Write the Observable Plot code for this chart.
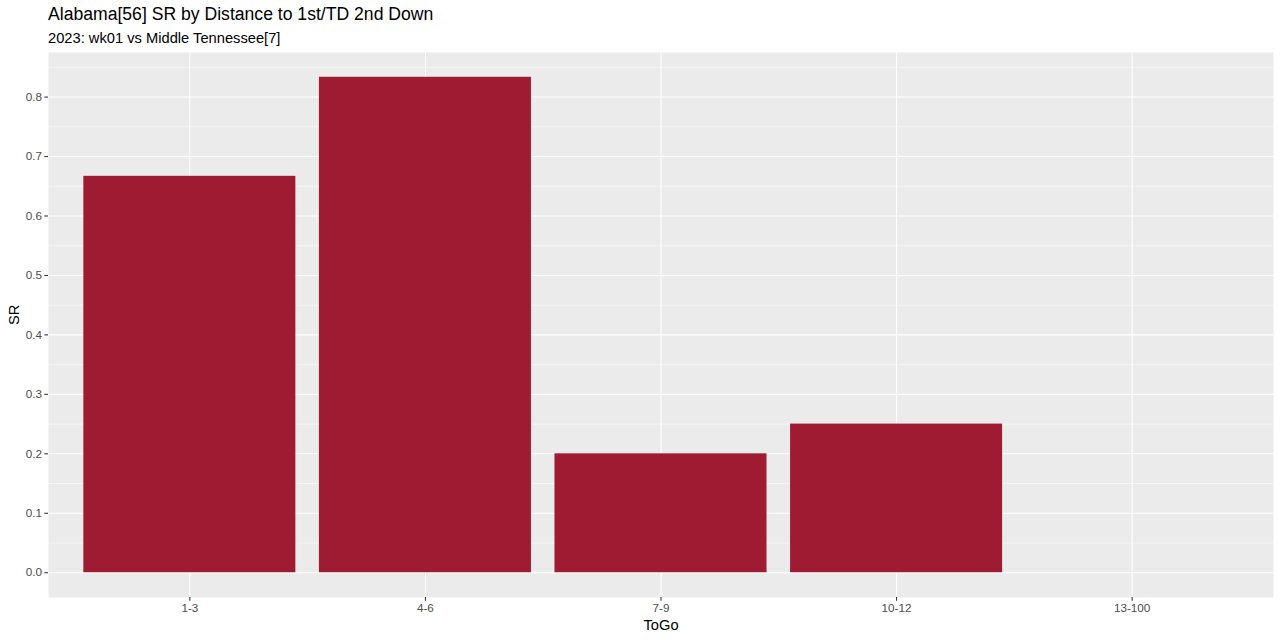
<!DOCTYPE html>
<html>
<head>
<meta charset="utf-8">
<script src="https://cdn.jsdelivr.net/npm/d3@7"></script>
<script src="https://cdn.jsdelivr.net/npm/@observablehq/plot@0.6"></script>
<style>
  html, body { margin: 0; padding: 0; background: #ffffff; }
  body { width: 1280px; height: 640px; overflow: hidden; font-family: "Liberation Sans", Arial, sans-serif; }
  #header { position: relative; height: 48px; width: 1280px; }
  #title { position: absolute; left: 48px; top: 6px; font-size: 17.6px; line-height: 1; color: #000; white-space: nowrap; }
  #subtitle { position: absolute; left: 48px; top: 30.6px; font-size: 14.7px; line-height: 1; color: #000; white-space: nowrap; }
  #chart svg { display: block; }
</style>
</head>
<body>
<div id="header">
  <div id="title">Alabama[56] SR by Distance to 1st/TD 2nd Down</div>
  <div id="subtitle">2023: wk01 vs Middle Tennessee[7]</div>
</div>
<div id="chart"></div>
<script>
const categories = ["1-3", "4-6", "7-9", "10-12", "13-100"];
const srValues = [0.6667, 0.8333, 0.2, 0.25, 0];
const yMajorTicks = [0, 0.1, 0.2, 0.3, 0.4, 0.5, 0.6, 0.7, 0.8];
const yMinorTicks = [0.05, 0.15, 0.25, 0.35, 0.45, 0.55, 0.65, 0.75, 0.85];
const xTitle = "ToGo";
const yTitle = "SR";

const data = categories.map((c, i) => ({ToGo: c, SR: srValues[i]}));

const yMax = d3.max(srValues);
const yMin = 0;
const pad = (yMax - yMin) * 0.05;

const chart = Plot.plot({
  width: 1280,
  height: 592,
  marginTop: 4,
  marginBottom: 43,
  marginLeft: 48,
  marginRight: 7,
  style: { fontFamily: "Liberation Sans, Arial, sans-serif", background: "white", overflow: "visible" },
  x: { type: "band", domain: categories, paddingInner: 0.1, paddingOuter: 0.15, align: 0.5, round: false, label: null },
  y: { domain: [yMin - pad, yMax + pad], label: null },
  marks: [
    Plot.frame({ fill: "#EBEBEB", stroke: "none" }),
    Plot.ruleY(yMinorTicks, { y: d => d, stroke: "white", strokeWidth: 0.53 }),
    Plot.ruleY(yMajorTicks, { y: d => d, stroke: "white", strokeWidth: 1.07 }),
    Plot.gridX(categories, { stroke: "white", strokeOpacity: 1, strokeWidth: 1.07 }),
    Plot.barY(data, { x: "ToGo", y: "SR", fill: "#9E1B32" }),
    Plot.axisY(yMajorTicks, {
      tickSize: 3.7, tickPadding: 2.9, stroke: "#333333", strokeWidth: 1.07,
      fill: "#4D4D4D", fontSize: 11.7, tickFormat: d3.format(".1f"), label: null
    }),
    Plot.axisX(categories, {
      tickSize: 3.7, tickPadding: 2.9, stroke: "#333333", strokeWidth: 1.07,
      fill: "#4D4D4D", fontSize: 11.7, label: null
    }),
    Plot.text([xTitle], { text: d => d, frameAnchor: "bottom", dy: 28, fontSize: 14.7, fill: "black", lineAnchor: "middle" }),
    Plot.text([yTitle], { text: d => d, frameAnchor: "left", dx: -34, rotate: -90, fontSize: 14.7, fill: "black", lineAnchor: "middle" })
  ]
});
document.getElementById("chart").appendChild(chart);
</script>
</body>
</html>
